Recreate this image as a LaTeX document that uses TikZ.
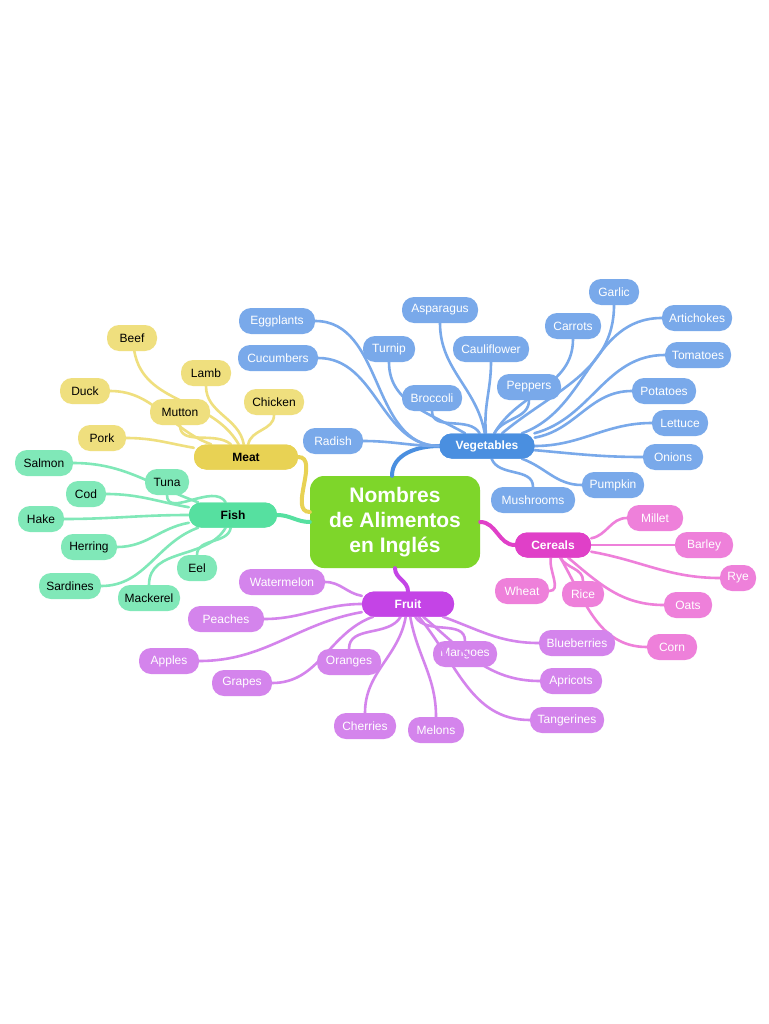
\documentclass[tikz,border=0pt]{standalone}
\usepackage{fontspec}
\setmainfont{Liberation Sans}
\definecolor{cgreen}{HTML}{7ED62A}
\definecolor{cveg}{HTML}{4A8FE0}
\definecolor{lveg}{HTML}{79A9EA}
\definecolor{cmeat}{HTML}{E8D254}
\definecolor{lmeat}{HTML}{EFDF7E}
\definecolor{cfish}{HTML}{56E0A0}
\definecolor{lfish}{HTML}{80E8B8}
\definecolor{ccer}{HTML}{E040C8}
\definecolor{lcer}{HTML}{EE80DA}
\definecolor{cfru}{HTML}{C444E6}
\definecolor{lfru}{HTML}{D484EC}
\begin{document}
\begin{tikzpicture}[x=1pt,y=-1pt,
 hub/.style={rounded corners=12pt,minimum height=25pt,font=\fontsize{12}{12}\selectfont\bfseries,inner sep=0pt},
 leaf/.style={rounded corners=12pt,minimum height=26pt,font=\fontsize{12}{12}\selectfont,inner sep=0pt},
 con/.style={line width=2.6pt,line cap=round},
 hcon/.style={line width=4pt,line cap=round}]
\useasboundingbox[fill=white] (0,0) rectangle (768,1024);
\node[fill=cgreen,text=white,rounded corners=14pt,minimum width=170pt,minimum height=92pt,align=center,font=\fontsize{21}{25}\selectfont\bfseries,inner sep=0pt] (c) at (395,522) {Nombres\\de Alimentos\\en Inglés};
\node[hub,fill=cveg,text=white,minimum width=95pt] (veg) at (487,446) {Vegetables};
\node[hub,fill=cmeat,minimum width=104pt] (meat) at (246,457) {Meat};
\node[hub,fill=cfish,minimum width=88pt] (fish) at (233,515) {Fish};
\node[hub,fill=ccer,text=white,minimum width=76pt] (cer) at (553,545) {Cereals};
\node[hub,fill=cfru,text=white,minimum width=92pt] (fru) at (408,604) {Fruit};
% hub connectors
\draw[hcon,cveg] (c.north) ++(-3,0) to[out=90,in=180] (veg.west);
\draw[hcon,cmeat] (c.west) ++(0,-10) to[out=180,in=0] (meat.east);
\draw[hcon,cfish] (c.west) to[out=180,in=0] (fish.east);
\draw[hcon,ccer] (c.east) to[out=0,in=180] (cer.west);
\draw[hcon,cfru] (c.south) to[out=-90,in=90] (fru.north);
% leaves: name/x/y/w/text
\foreach \n/\x/\y/\w/\t/\oa/\ia in {
 v1/277/321/76/Eggplants/180/0, v2/278/358/80/Cucumbers/180/0, v3/440/310/76/Asparagus/100/-90,
 v4/389/349/52/Turnip/150/-90, v5/491/349/76/Cauliflower/95/-90, v6/573/326/56/Carrots/60/-90,
 v7/614/292/50/Garlic/40/-90, v8/697/318/70/Artichokes/20/180, v9/698/355/66/Tomatoes/15/180,
 v10/664/391/64/Potatoes/10/180, v11/529/387/64/Peppers/60/-90, v12/432/398/60/Broccoli/120/-90,
 v13/333/441/60/Radish/180/0, v14/680/423/56/Lettuce/0/180, v15/673/457/60/Onions/-5/180,
 v16/613/485/62/Pumpkin/-20/180, v17/533/500/84/Mushrooms/-70/90}{
 \node[leaf,fill=lveg,text=white,minimum width=\w pt] (\n) at (\x,\y) {\t};
 \draw[con,lveg] (veg) to[out=\oa,in=\ia] (\n);
}
\foreach \n/\x/\y/\w/\t/\oa/\ia in {
 m1/132/338/50/Beef/120/-80, m2/206/373/50/Lamb/100/-90, m3/85/391/50/Duck/160/0,
 m4/180/412/60/Mutton/140/-90, m5/274/402/60/Chicken/80/-90, m6/102/438/48/Pork/170/0}{
 \node[leaf,fill=lmeat,minimum width=\w pt] (\n) at (\x,\y) {\t};
 \draw[con,lmeat] (meat) to[out=\oa,in=\ia] (\n);
}
\foreach \n/\x/\y/\w/\t/\oa/\ia in {
 f1/44/463/58/Salmon/160/0, f2/167/482/44/Tuna/120/-90, f3/86/494/40/Cod/170/0,
 f4/41/519/46/Hake/180/0, f5/89/547/56/Herring/190/0, f6/197/568/40/Eel/-100/90,
 f7/70/586/62/Sardines/200/0, f8/149/598/62/Mackerel/-120/90}{
 \node[leaf,fill=lfish,minimum width=\w pt] (\n) at (\x,\y) {\t};
 \draw[con,lfish] (fish) to[out=\oa,in=\ia] (\n);
}
\foreach \n/\x/\y/\w/\t/\oa/\ia in {
 r1/655/518/56/Millet/10/180, r2/704/545/58/Barley/0/180, r3/738/578/36/Rye/-10/180,
 r4/688/605/48/Oats/-40/180, r5/672/647/50/Corn/-60/180, r6/522/591/54/Wheat/-100/0,
 r7/583/594/42/Rice/-60/90}{
 \node[leaf,fill=lcer,text=white,minimum width=\w pt] (\n) at (\x,\y) {\t};
 \draw[con,lcer] (cer) to[out=\oa,in=\ia] (\n);
}
\foreach \n/\x/\y/\w/\t/\oa/\ia in {
 u1/282/582/86/Watermelon/170/0, u2/226/619/76/Peaches/180/0, u3/169/661/60/Apples/190/0,
 u4/242/683/60/Grapes/200/0, u5/349/662/64/Oranges/-120/90, u6/465/654/64/Mangoes/-60/90,
 u7/577/643/76/Blueberries/-20/180, u8/571/681/62/Apricots/-40/180, u9/567/720/74/Tangerines/-50/180,
 u10/365/726/62/Cherries/-100/90, u11/436/730/56/Melons/-80/90}{
 \node[leaf,fill=lfru,text=white,minimum width=\w pt] (\n) at (\x,\y) {\t};
 \draw[con,lfru] (fru) to[out=\oa,in=\ia] (\n);
}
% redraw hubs on top
\node[hub,fill=cveg,text=white,minimum width=95pt] at (veg) {Vegetables};
\node[hub,fill=cmeat,minimum width=104pt] at (meat) {Meat};
\node[hub,fill=cfish,minimum width=88pt] at (fish) {Fish};
\node[hub,fill=ccer,text=white,minimum width=76pt] at (cer) {Cereals};
\node[hub,fill=cfru,text=white,minimum width=92pt] at (fru) {Fruit};
\end{tikzpicture}
\end{document}
